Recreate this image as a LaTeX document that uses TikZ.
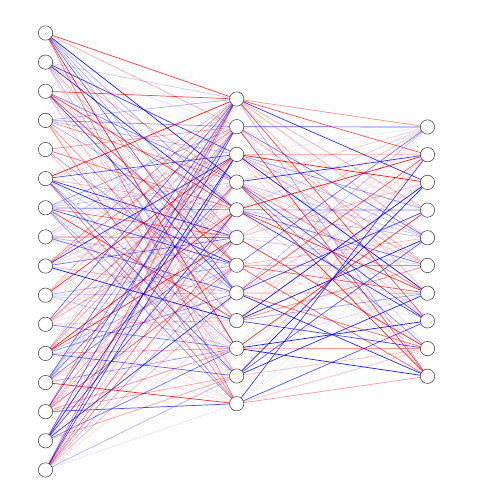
\documentclass[tikz,border=0pt]{standalone}
\usepackage{tikz}

\begin{document}
\begin{tikzpicture}[
  x=0.03cm, y=-0.03cm,
  neuron/.style={circle, draw=black!70, fill=white, line width=0.5pt,
                 minimum size=0.43cm, inner sep=0pt},
  wire/.style={line width=0.6pt}
]
  \useasboundingbox (0,0) rectangle (490,497);

  % node positions (layers: input 16, hidden 12, output 10)
  \foreach \i in {1,...,16}
    \coordinate (in-\i) at (45.5, {33+(\i-1)*29.13});
  \foreach \i in {1,...,12}
    \coordinate (hid-\i) at (236.7, {99+(\i-1)*27.7});
  \foreach \i in {1,...,10}
    \coordinate (out-\i) at (427.5, {127+(\i-1)*27.7});

  % weighted connections
  \pgfmathsetseed{4217}
  \foreach \i in {1,...,16}
    \foreach \j in {1,...,12}{
      \pgfmathsetmacro\w{rand}
      \pgfmathtruncatemacro\pos{100*(\w>0)}
      \pgfmathsetmacro\op{0.95*abs(\w)^2}
      \draw[wire, red!\pos!blue, opacity=\op] (in-\i) -- (hid-\j);
    }
  \foreach \i in {1,...,12}
    \foreach \j in {1,...,10}{
      \pgfmathsetmacro\w{rand}
      \pgfmathtruncatemacro\pos{100*(\w>0)}
      \pgfmathsetmacro\op{0.95*abs(\w)^2}
      \draw[wire, red!\pos!blue, opacity=\op] (hid-\i) -- (out-\j);
    }

  % neurons on top
  \foreach \i in {1,...,16}
    \node[neuron] (n-in-\i) at (in-\i) {};
  \foreach \i in {1,...,12}
    \node[neuron] (n-hid-\i) at (hid-\i) {};
  \foreach \i in {1,...,10}
    \node[neuron] (n-out-\i) at (out-\i) {};
\end{tikzpicture}
\end{document}
